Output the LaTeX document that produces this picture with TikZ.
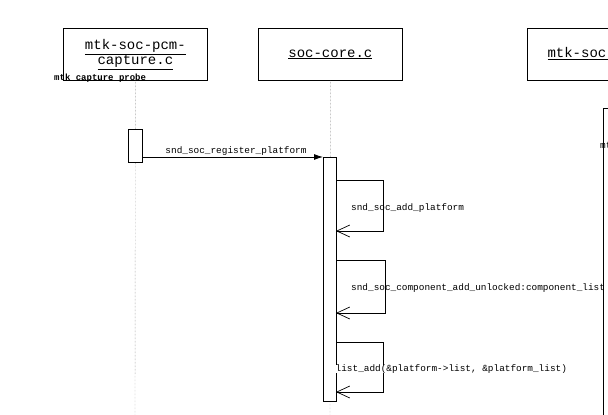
\documentclass[tikz,border=0pt]{standalone}
\usepackage{fontspec}
\setmainfont{Liberation Mono}
\usetikzlibrary{arrows.meta}
\begin{document}
\begin{tikzpicture}[x=1pt,y=-1pt,
  lbox/.style={draw,line width=0.8pt,anchor=north west,inner sep=0pt},
  ttl/.style={font=\fontsize{14}{15}\selectfont,align=center},
  msg/.style={font=\fontsize{9.4}{10}\selectfont,inner sep=0pt},
  life/.style={densely dotted,gray},
  act/.style={draw,fill=white,line width=0.6pt,anchor=north west,inner sep=0pt},
  self/.style={line width=0.7pt,-{Straight Barb[length=13pt,width=12pt]}}]
\useasboundingbox (0,0) rectangle (608,415);
\clip (0,0) rectangle (608,415);
\fill[white] (0,0) rectangle (608,415);
% lifeline boxes
\node[lbox,minimum width=144pt,minimum height=52pt] (b1) at (63,28) {};
\node[ttl] (t1) at (b1.center) {\underline{mtk-soc-pcm-}\\\underline{capture.c}};
\node[lbox,minimum width=144pt,minimum height=52pt] (b2) at (258,28) {};
\node[ttl] (t2) at (b2.center) {\underline{soc-core.c}};
\node[lbox,minimum width=120pt,minimum height=52pt] (b3) at (527,28) {};
\node[ttl,anchor=west] (t3) at (544,54) {\underline{mtk-soc-dai}};
\node[msg,anchor=west,font=\bfseries\fontsize{9}{10}\selectfont] (p) at (54,78) {mtk\_capture\_probe};
% lifelines
\coordinate (l1e) at (135,415);
\coordinate (l2e) at (330,415);
\draw[life] (b1.south) -- (l1e);
\draw[life] (b2.south) -- (l2e);
% activations
\node[act,minimum width=14pt,minimum height=33pt] (a1) at (128,129) {};
\node[act,minimum width=13pt,minimum height=244pt] (a2) at (323,157) {};
\node[act,minimum width=20pt,minimum height=320pt] (a3) at (603,108) {};
\node[msg,anchor=west] (mt) at (600,145) {mt};
% message
\coordinate (m1) at (142,157);
\draw[line width=0.8pt,-{Latex[length=9pt,width=6pt]}] (m1) -- (a2.north west);
\node[msg] (ml) at (236,151) {snd\_soc\_register\_platform};
% self calls
\coordinate (s1a) at (336,180); \coordinate (s1b) at (336,231);
\draw[self] (s1a) -- (383,180) -- (383,231) -- (s1b);
\node[msg,anchor=west] (sl1) at (351,208) {snd\_soc\_add\_platform};
\coordinate (s2a) at (336,260); \coordinate (s2b) at (336,313);
\draw[self] (s2a) -- (385,260) -- (385,313) -- (s2b);
\node[msg,anchor=west] (sl2) at (351,288) {snd\_soc\_component\_add\_unlocked:component\_list};
\coordinate (s3a) at (336,342); \coordinate (s3b) at (336,392);
\draw[self] (s3a) -- (383,342) -- (383,392) -- (s3b);
\node[msg,anchor=west,fill=white,inner xsep=0.5pt] (sl3) at (335,369) {list\_add(\&platform->list, \&platform\_list)};
\end{tikzpicture}
\end{document}
